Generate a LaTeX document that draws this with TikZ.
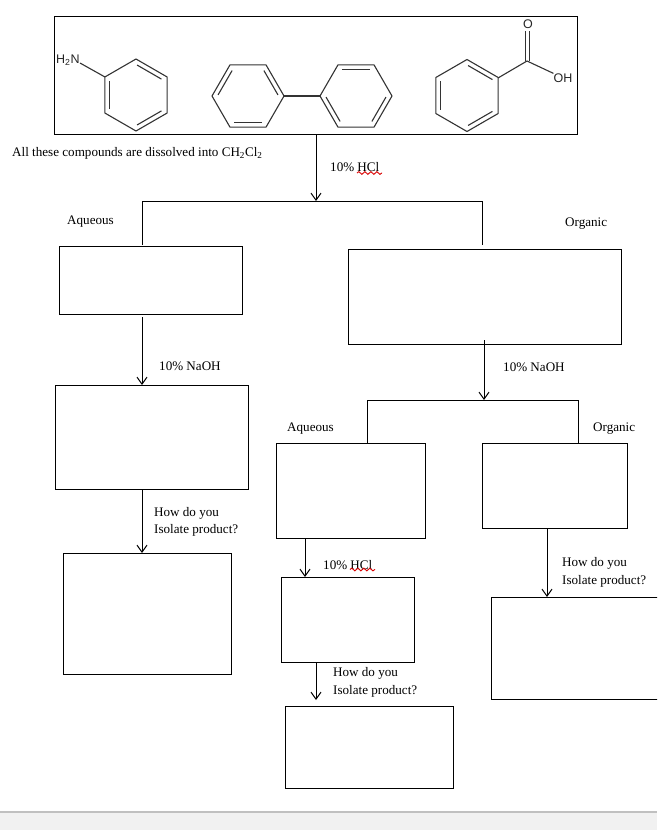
\documentclass[tikz,border=0pt]{standalone}
\usepackage{fontspec}
\setmainfont{Liberation Serif}
\newfontfamily\chemfont{Liberation Sans}
\usetikzlibrary{arrows.meta,decorations.pathmorphing}

\definecolor{stripfill}{RGB}{241,241,241}
\definecolor{stripline}{RGB}{192,192,192}

\tikzset{
    box/.style={draw,line width=1.1pt,inner sep=0pt,anchor=north west},
    lbl/.style={inner sep=0pt,anchor=west,font=\fontsize{13.1}{13.1}\selectfont},
    chem/.style={inner sep=0pt,font=\chemfont\fontsize{12.5}{12.5}\selectfont,text=black!85},
    bond/.style={line width=1.1pt,black!80},
    arr/.style={line width=1pt,-{Straight Barb[length=7pt,width=10pt]}},
    brk/.style={line width=1pt},
    squiggle/.style={red!85!black,line width=0.9pt,decorate,decoration={snake,amplitude=1.4pt,segment length=6pt}}
}

% ring centre x, centre y, first corner angle, angles where a double bond starts
\newcommand{\hexring}[4]{
    \draw[bond,shift={(#1,#2)}] (#3:36) -- (#3+60:36) -- (#3+120:36) -- (#3+180:36) -- (#3+240:36) -- (#3+300:36) -- cycle;
    \foreach \a in {#4}
        \draw[bond,shift={(#1,#2)}] (\a+2:30) -- (\a+58:30);
}

\begin{document}
\begin{tikzpicture}[x=1pt,y=-1pt]

    \clip (0,0) rectangle (657,830);

    % strip at the foot
    \fill[stripfill] (0,812) rectangle (657,830);
    \draw[stripline,line width=1.5pt] (0,812) -- (657,812);

    % boxes
    \node[box,minimum width=523pt,minimum height=118pt] (top) at (53.5,16) {};
    \node[box,minimum width=183pt,minimum height=68pt] (aqone) at (59,246) {};
    \node[box,minimum width=273pt,minimum height=95pt] (orgone) at (348,249) {};
    \node[box,minimum width=193pt,minimum height=104pt] (aqtwo) at (55,385) {};
    \node[box,minimum width=149pt,minimum height=95pt] (aqthree) at (276,443) {};
    \node[box,minimum width=145pt,minimum height=85pt] (orgthree) at (482,443) {};
    \node[box,minimum width=168pt,minimum height=121pt] (prodleft) at (63,553) {};
    \node[box,minimum width=133pt,minimum height=85pt] (hclbox) at (281,577) {};
    \node[box,minimum width=168pt,minimum height=82pt] (prodmid) at (285,706) {};
    \node[box,minimum width=190pt,minimum height=102pt] (prodright) at (491,597) {};

    % aniline
    \hexring{136}{95}{30}{270,30,150}
    \coordinate (nbond) at (105,77);
    \node[chem,anchor=west] (amine) at (56,60) {H\textsubscript{2}N};
    \draw[bond] (nbond) -- (80,63);

    % biphenyl
    \hexring{248}{96}{0}{60,180,300}
    \hexring{356}{96}{0}{0,120,240}
    \coordinate (ringa) at (284,96);
    \coordinate (ringb) at (320,96);
    \draw[bond] (ringa) -- (ringb);

    % benzoic acid
    \hexring{467}{95.5}{30}{270,30,150}
    \coordinate (ipso) at (498,78);
    \coordinate (carbon) at (527,61);
    \node[chem] (oxygen) at (528,24) {O};
    \node[chem] (hydroxyl) at (563,78) {OH};
    \draw[bond] (ipso) -- (carbon) -- (hydroxyl.north west);
    \draw[bond] (525.5,61) -- (525.5,31);
    \draw[bond] (529.5,61) -- (529.5,31);

    % texts
    \node[lbl] (solvent) at (12,153) {All these compounds are dissolved into CH\textsubscript{2}Cl\textsubscript{2}};
    \node[lbl] (hclone) at (330,167) {10\% HCl};
    \draw[squiggle] (357,173) -- (382,173);
    \node[lbl] (aqlabelone) at (67,222) {Aqueous};
    \node[lbl] (orglabelone) at (565,224) {Organic};
    \node[lbl] (naohone) at (159,366) {10\% NaOH};
    \node[lbl] (naohtwo) at (503,367) {10\% NaOH};
    \node[lbl] (aqlabeltwo) at (287,429) {Aqueous};
    \node[lbl] (orglabeltwo) at (593,429) {Organic};
    \node[lbl] (howone) at (154,513) {How do you};
    \node[lbl] (isoone) at (154,530) {Isolate product?};
    \node[lbl] (hcltwo) at (323,565) {10\% HCl};
    \draw[squiggle] (350,569.5) -- (375,569.5);
    \node[lbl] (howtwo) at (562,563) {How do you};
    \node[lbl] (isotwo) at (562,581) {Isolate product?};
    \node[lbl] (howthree) at (333,673) {How do you};
    \node[lbl] (isothree) at (333,691) {Isolate product?};

    % first split
    \coordinate (splitone) at (316,201);
    \coordinate (leftup) at (142,201);
    \coordinate (leftdown) at (142,245);
    \coordinate (rightup) at (482,201);
    \coordinate (rightdown) at (482,245);
    \draw[arr] (top.south -| splitone) -- (splitone);
    \draw[brk] (leftdown) -- (leftup) -- (rightup) -- (rightdown);

    % second split
    \coordinate (splittwostart) at (484,340);
    \coordinate (splittwo) at (484,400);
    \coordinate (lefttwoup) at (367,400);
    \coordinate (lefttwodown) at (367,443);
    \coordinate (righttwoup) at (578,400);
    \coordinate (righttwodown) at (578,443);
    \draw[arr] (splittwostart) -- (splittwo);
    \draw[brk] (lefttwodown) -- (lefttwoup) -- (righttwoup) -- (righttwodown);

    % arrows between boxes
    \coordinate (aonea) at (142,317);
    \coordinate (aoneb) at (142,385);
    \draw[arr] (aonea) -- (aoneb);
    \coordinate (atwoa) at (142,489);
    \coordinate (atwob) at (142,553);
    \draw[arr] (atwoa) -- (atwob);
    \coordinate (athreea) at (305,538);
    \coordinate (athreeb) at (305,577);
    \draw[arr] (athreea) -- (athreeb);
    \coordinate (hcla) at (316,662);
    \coordinate (hclb) at (316,700);
    \draw[arr] (hcla) -- (hclb);
    \coordinate (orga) at (547,528);
    \coordinate (orgb) at (547,597);
    \draw[arr] (orga) -- (orgb);

\end{tikzpicture}
\end{document}
